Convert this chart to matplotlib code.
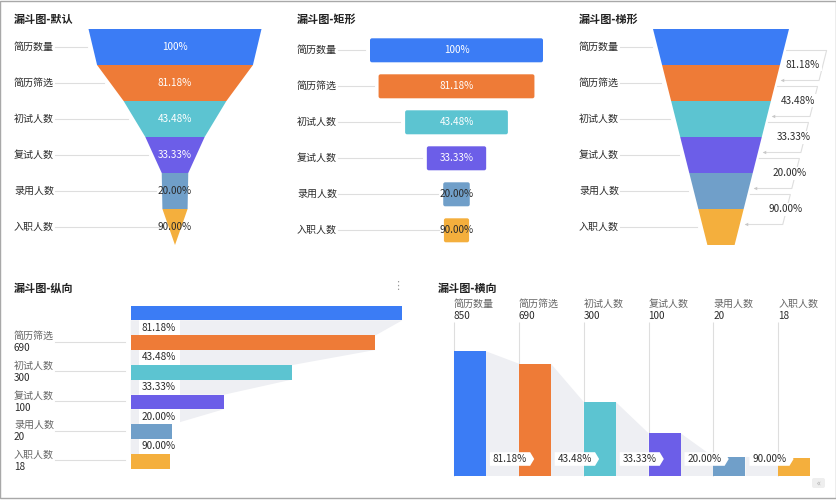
import numpy as np
import matplotlib
matplotlib.use('Agg')
import matplotlib.pyplot as plt
from matplotlib.patches import Polygon, Rectangle, FancyBboxPatch
from matplotlib.path import Path

plt.rcParams['font.family'] = ['Noto Sans CJK SC', 'DejaVu Sans']

# data
stages = ['简历数量', '简历筛选', '初试人数', '复试人数', '录用人数', '入职人数']
counts = np.array([850, 690, 300, 100, 20, 18])
colors = ['#3B7CF5', '#EE7B37', '#5CC4D1', '#6C5EE8', '#709FC9', '#F4AF3D']
titles = ['漏斗图-默认', '漏斗图-矩形', '漏斗图-梯形', '漏斗图-纵向', '漏斗图-横向']

# funnel width ~ sqrt(count), labels are step conversion rates
size = np.sqrt(counts / counts[0])
rates = counts[1:] / counts[:-1] * 100
rate_labels = ['100%'] + ['%.2f%%' % r for r in rates]

W, H = 837, 500
LINE = '#dedede'
DARK = '#2b2b2b'
GREY = '#666666'
BAND = '#eeeff3'
FS = 7.2

fig = plt.figure(figsize=(W / 100, H / 100), dpi=100)


def panel(px_x0, px_x1, x0, x1, px_y0, px_y1, y0, y1):
    # full-figure axes whose data coords map px_x0->x0, px_x1->x1 etc.
    sx = (x1 - x0) / (px_x1 - px_x0)
    sy = (y1 - y0) / (px_y1 - px_y0)
    fx = lambda p: x0 + (p - px_x0) * sx
    fy = lambda p: y0 + (p - px_y0) * sy
    ax = fig.add_axes([0, 0, 1, 1])
    ax.set_xlim(fx(0), fx(W))
    ax.set_ylim(fy(H), fy(0))
    ax.axis('off')
    return ax, fx, fy, sx, sy


def tag_box(x0, y0, width, height, mutation_size):
    # white label box with a pointed right side
    px = 0.3 * mutation_size
    py = 0.18 * mutation_size
    x0, y0 = x0 - px, y0 - py
    x1, y1 = x0 + width + 2 * px, y0 + height + 2 * py
    tip = (y1 - y0) * 0.3
    return Path([(x0, y0), (x1, y0), (x1 + tip, (y0 + y1) / 2), (x1, y1),
                 (x0, y1), (x0, y0)], closed=True)


# background, frame, titles
bg = fig.add_axes([0, 0, 1, 1])
bg.set_xlim(0, W)
bg.set_ylim(H, 0)
bg.axis('off')
bg.add_patch(Rectangle((0.5, 0.5), 835.5, 497.5, fill=False, ec='#a8a8a8', lw=1))
for t, x, y in zip(titles, [14, 297, 579, 14, 438], [19, 19, 19, 288, 288]):
    bg.text(x, y, t, fontsize=8, fontweight='bold', color='#222222', va='center')
bg.text(398, 286, '⋮', fontsize=8, color='#999999', ha='center', va='center')
bg.add_patch(FancyBboxPatch((812, 478), 13, 10, boxstyle='round,pad=0,rounding_size=2',
                            fc='#eeeeee', ec='none'))
bg.text(818.5, 483, '«', fontsize=6, color='#aaaaaa', ha='center', va='center')

# 1. default funnel
ax1, fx, fy, sx, sy = panel(88.5, 261.5, -0.5, 0.5, 29, 245, 0, 6)
edge = np.r_[size, 0]
for i in range(6):
    top, bot = edge[i] / 2, edge[i + 1] / 2
    ax1.add_patch(Polygon([(-top, i), (top, i), (bot, i + 1), (-bot, i + 1)],
                          closed=True, fc=colors[i], ec='none'))
    ax1.text(0, i + 0.5, rate_labels[i], ha='center', va='center', fontsize=FS,
             color='white' if size[i] > 0.3 else DARK)
    ax1.text(fx(14), i + 0.5, stages[i], va='center', fontsize=FS, color=DARK)
    mid = (top + bot) / 2
    ax1.plot([fx(55), -mid - 6 * sx], [i + 0.5] * 2, color=LINE, lw=0.8)

# 2. rectangle funnel
ax2, fx, fy, sx, sy = panel(370, 543, -0.5, 0.5, 50.3, 230.3, 0, 5)
bh = 24 * sy
for i in range(6):
    ax2.add_patch(FancyBboxPatch((-size[i] / 2, i - bh / 2), size[i], bh,
                                 boxstyle='round,pad=0,rounding_size=%f' % (2 * sx),
                                 mutation_aspect=sy / sx, fc=colors[i], ec='none'))
    ax2.text(0, i, rate_labels[i], ha='center', va='center', fontsize=FS,
             color='white' if size[i] > 0.3 else DARK)
    ax2.text(fx(297), i, stages[i], va='center', fontsize=FS, color=DARK)
    ax2.plot([fx(338), -size[i] / 2 - 5 * sx], [i, i], color=LINE, lw=0.8)

# 3. trapezoid funnel
ax3, fx, fy, sx, sy = panel(653, 789, -0.5, 0.5, 29, 245, 0, 6)
tw = np.linspace(1, 0.2, 7)
right = lambda y: np.interp(y, np.arange(7), tw) / 2
for i in range(6):
    top, bot = tw[i] / 2, tw[i + 1] / 2
    ax3.add_patch(Polygon([(-top, i), (top, i), (bot, i + 1), (-bot, i + 1)],
                          closed=True, fc=colors[i], ec='none'))
    ax3.text(fx(579), i + 0.5, stages[i], va='center', fontsize=FS, color=DARK)
    ax3.plot([fx(620), -(top + bot) / 2 - 5.5 * sx], [i + 0.5] * 2, color=LINE, lw=0.8)
for i in range(5):
    yt = i + 0.5 + 3.5 * sy
    yb = i + 1.5 - 2.5 * sy
    xs = [right(yt) + 3 * sx, right(yt) + 43 * sx, right(yb) + 43 * sx, right(yb) + 6 * sx]
    ax3.plot(xs, [yt, yt, yb, yb], color=LINE, lw=0.8)
    ax3.plot(xs[-1], yb, marker='<', ms=2.5, color='#c8c8c8', mec='none')
    ax3.text(right(i + 1) + (23 + 4.6 * i) * sx, i + 1, rate_labels[i + 1], ha='center',
             va='center', fontsize=FS, color=DARK,
             bbox=dict(boxstyle='square,pad=0.15', fc='white', ec='none'))

# 4. vertical (horizontal bars)
ax4, fx, fy, sx, sy = panel(130.7, 402.4, 0, 1, 313, 461.3, 0, 5)
bh = 14.5 * sy
ax4.barh(range(6), size, height=bh, left=0, color=colors, zorder=3)
for i in range(5):
    ax4.add_patch(Polygon([(0, i + bh / 2), (size[i], i + bh / 2),
                           (size[i + 1], i + 1 - bh / 2), (0, i + 1 - bh / 2)],
                          closed=True, fc=BAND, ec='none', zorder=1))
    ax4.text(fx(142), i + 0.5, rate_labels[i + 1], va='center', fontsize=FS, color=DARK,
             zorder=2, bbox=dict(boxstyle='square,pad=0.35', fc='white', ec='none'))
for i in range(1, 6):
    ax4.text(fx(14), i - 6.5 * sy, stages[i], va='center', fontsize=FS, color=GREY)
    ax4.text(fx(14), i + 5.8 * sy, str(counts[i]), va='center', fontsize=FS, color=DARK)
    ax4.plot([fx(55), fx(125)], [i - sy] * 2, color=LINE, lw=0.8)

# 5. horizontal (columns)
ax5, fx, fy, sx, sy = panel(454, 778.3, 0, 5, 476, 351.3, 0, 1)
bw = 32 * sx
ax5.vlines(range(6), 0, fy(322), color=LINE, lw=0.8, zorder=0)
ax5.bar(range(6), size, width=bw, align='edge', color=colors, zorder=3)
for i in range(5):
    ax5.add_patch(Polygon([(i + bw, 0), (i + bw, size[i]), (i + 1, size[i + 1]), (i + 1, 0)],
                          closed=True, fc=BAND, ec='none', zorder=1))
    ax5.text(i + fx(510), fy(459), rate_labels[i + 1], ha='center', va='center',
             fontsize=FS, color=DARK, zorder=5,
             bbox=dict(boxstyle=tag_box, fc='white', ec='none'))
for i in range(6):
    ax5.text(i, fy(304), stages[i], va='center', fontsize=FS, color=GREY)
    ax5.text(i, fy(316), str(counts[i]), va='center', fontsize=FS, color=DARK)

fig.savefig('out.png', dpi=100)
